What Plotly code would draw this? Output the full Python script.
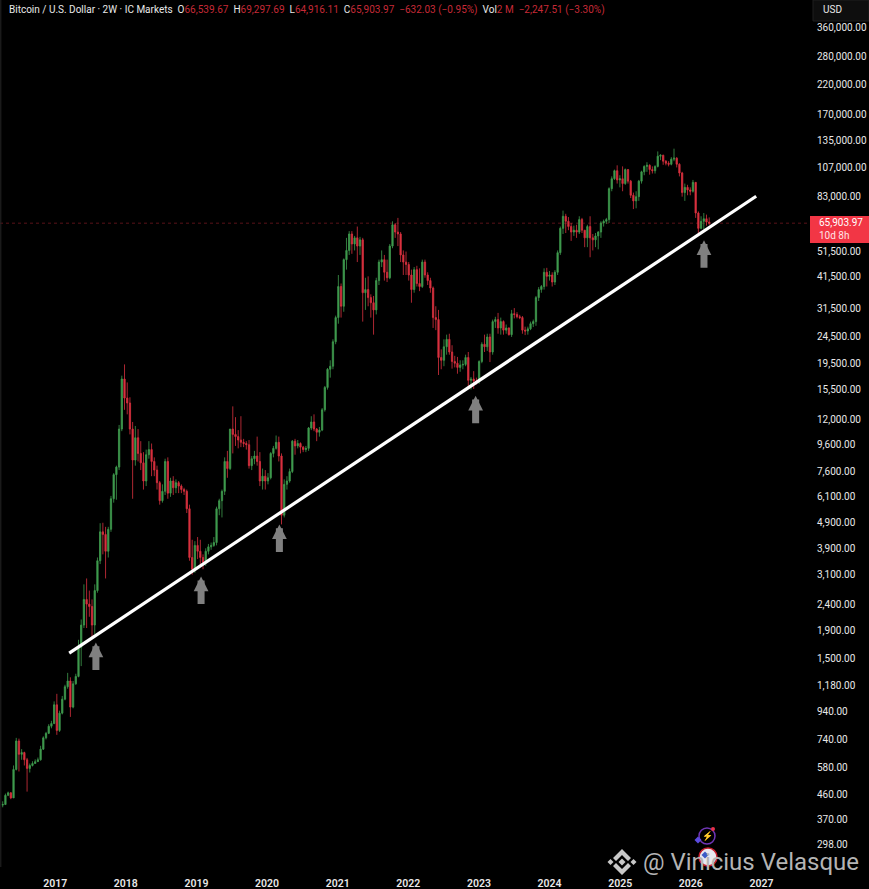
import math
import pandas as pd
import plotly.graph_objects as go

# 2W candles, first bar early April 2016
closes = [
    420, 455, 465, 445, 570, 730, 650, 660, 620, 575,
    590, 600, 610, 620, 680, 750, 780, 830, 850, 1000,
    800, 930, 1050, 1170, 1230, 980, 1200, 1280, 1650, 2000,
    2500, 2400, 2350, 2000, 2700, 3500, 4500, 4400, 3800, 4600,
    6000, 7400, 7900, 11000, 17000, 14400, 13800, 11000, 8400, 10200,
    8900, 8200, 7000, 8800, 9200, 8300, 7700, 6900, 5900, 6400,
    8300, 6300, 7000, 6600, 6900, 6700, 6500, 6400, 5500, 3600,
    3250, 4000, 3800, 3600, 3450, 3800, 3950, 4000, 4100, 5500,
    5900, 6400, 8300, 7800, 11000, 10500, 10300, 10000, 9800, 9700,
    9600, 8000, 8500, 8700, 8300, 7000, 7300, 7000, 7200, 8900,
    9300, 9800, 8700, 5200, 6800, 7000, 7600, 9900, 9500, 9700,
    9400, 9200, 9300, 11100, 11700, 11000, 10700, 10900, 13000, 15800,
    18500, 19000, 23500, 29000, 38000, 32000, 48000, 52000, 60000, 55000,
    58000, 54000, 57000, 36000, 37000, 34500, 33000, 31000, 40000, 47000,
    48000, 43000, 41000, 54000, 65000, 61000, 60000, 50000, 47000, 46000,
    42000, 37000, 44000, 39000, 38000, 47000, 42000, 40000, 37500, 29000,
    28500, 20500, 20000, 22500, 24000, 21500, 19800, 19500, 18800, 19200,
    19300, 20500, 16800, 17000, 16700, 16600, 19800, 23000, 22500, 24500,
    21500, 28000, 28500, 26500, 28000, 26000, 26500, 25000, 30000, 29800,
    29200, 29000, 26000, 25800, 26300, 27500, 28000, 34500, 37000, 38000,
    43000, 41500, 42000, 39500, 43000, 51000, 63000, 70000, 67000, 64000,
    61000, 62000, 61000, 68000, 62000, 58000, 64000, 58000, 57000, 59000,
    61000, 66000, 67000, 68000, 89000, 97000, 104000, 96000, 97000, 93000,
    105000, 95000, 84000, 80000, 83000, 95000, 103000, 108000, 109000, 105000,
    104000, 108000, 118000, 119000, 113000, 111000, 110000, 115000, 116000, 110000,
    102000, 86000, 90000, 88000, 87000, 94000, 72000, 63000, 67000, 68500,
    66539.67, 65903.97,
]
highs = [
    432, 462, 470, 468, 590, 750, 745, 680, 665, 630,
    600, 612, 622, 632, 700, 760, 790, 845, 870, 1030,
    1100, 950, 1080, 1190, 1320, 1270, 1230, 1310, 1760, 2100,
    2850, 3000, 2700, 2500, 2850, 3600, 4850, 4870, 4700, 4700,
    6150, 7500, 8000, 11400, 17500, 19300, 16500, 14500, 11700, 11300,
    11000, 9900, 9000, 9200, 9900, 9700, 8600, 8000, 7000, 6800,
    8500, 8600, 7200, 7300, 7100, 7000, 6800, 6600, 6500, 5700,
    4200, 4150, 4300, 4200, 3700, 3900, 4050, 4100, 4300, 5600,
    6000, 6500, 8600, 9100, 11000, 13400, 12200, 10900, 12300, 10100,
    9900, 10000, 8700, 9100, 10300, 9000, 7800, 7700, 7500, 9000,
    9500, 10400, 10300, 8900, 7100, 7300, 7800, 10000, 10100, 10000,
    9800, 9500, 9500, 11200, 12300, 12500, 11100, 11200, 13200, 16000,
    18700, 20000, 24000, 29500, 42000, 39000, 48500, 58000, 61500, 61500,
    59000, 64000, 58500, 58000, 41000, 41500, 35500, 35000, 41000, 48000,
    52000, 50000, 48000, 55000, 67000, 66000, 69000, 61000, 52000, 51500,
    47000, 44000, 45000, 45500, 44500, 48000, 48000, 43000, 41000, 38000,
    32000, 31000, 22000, 24000, 25000, 25200, 22800, 20800, 20600, 20000,
    20000, 21000, 21500, 17300, 18200, 17200, 20000, 23400, 25000, 25200,
    25200, 28500, 29200, 30200, 29000, 28300, 27300, 26600, 31000, 31500,
    30400, 29700, 29400, 26800, 26800, 28000, 28500, 35000, 37800, 38500,
    44500, 44700, 43500, 43000, 43800, 52000, 64000, 73500, 71500, 69500,
    66000, 64500, 65000, 70000, 69000, 62000, 65000, 70000, 60000, 60500,
    61500, 67000, 68000, 69000, 90000, 99000, 105000, 109000, 100000, 108000,
    106000, 105500, 96000, 86000, 87000, 96000, 104000, 109000, 112000, 110000,
    108000, 109000, 123000, 120000, 119500, 114000, 113000, 117000, 126000, 117000,
    111000, 103000, 93000, 92000, 90000, 96000, 94000, 73000, 70000, 72000,
    71000, 69297.69,
]
lows = [
    410, 420, 452, 440, 445, 565, 560, 620, 590, 470,
    555, 585, 598, 608, 615, 675, 740, 775, 815, 845,
    770, 790, 920, 1040, 1150, 900, 970, 1190, 1270, 1400,
    1950, 1950, 2150, 1800, 1850, 2650, 3400, 3700, 3000, 3600,
    4500, 5800, 5950, 7700, 10800, 13000, 12500, 10500, 6000, 8000,
    8300, 7700, 6500, 6700, 8500, 7300, 7300, 6500, 5700, 5800,
    6200, 6000, 6100, 6200, 6300, 6300, 6300, 6200, 5300, 3500,
    3100, 3150, 3550, 3350, 3250, 3350, 3700, 3850, 3950, 4000,
    5200, 5100, 6200, 7200, 7700, 8900, 9500, 9300, 9400, 9400,
    9200, 7800, 7700, 8100, 8000, 6700, 6500, 6500, 6800, 7100,
    8600, 9200, 8300, 4800, 5100, 6500, 6900, 7500, 8800, 9300,
    8900, 9000, 9000, 9100, 10900, 10800, 9900, 10300, 10800, 12800,
    15500, 17200, 18500, 23000, 27500, 29000, 30500, 44000, 50000, 50500,
    52000, 47000, 50000, 28000, 31000, 32000, 29000, 25000, 29800, 38500,
    45000, 40000, 39500, 40500, 53000, 58000, 54000, 47000, 42000, 42000,
    40000, 33000, 36000, 38000, 36500, 37500, 41000, 38500, 36000, 26500,
    26000, 17600, 18500, 19000, 21000, 21000, 18600, 18800, 17800, 18100,
    18500, 19000, 15800, 15500, 15600, 16200, 16300, 19500, 21500, 21700,
    19700, 21000, 26500, 25200, 25000, 25000, 25200, 24800, 24500, 28800,
    28800, 28600, 25200, 24900, 25000, 26000, 26700, 27000, 33500, 36000,
    37000, 38000, 40000, 38000, 38500, 42000, 50000, 60000, 60500, 62000,
    56500, 59000, 58000, 60000, 60500, 53500, 53500, 49000, 52000, 53500,
    52500, 58000, 64000, 65500, 66000, 87000, 96000, 93000, 90000, 87000,
    92000, 93000, 82000, 74500, 75000, 80000, 93000, 100000, 103000, 100500,
    101500, 101500, 107000, 114000, 109500, 109000, 108000, 109000, 113000, 107000,
    99000, 83000, 80000, 84000, 84000, 86000, 69000, 60000, 62500, 62500,
    64500, 64916.11,
]
opens = [418] + closes[:-1]
dates = pd.date_range("2016-04-04", periods=len(closes), freq="14D")

price_ticks = [360000, 280000, 220000, 170000, 135000, 107000, 83000, 51500, 41500,
               31500, 24500, 19500, 15500, 12000, 9600, 7600, 6100, 4900, 3900, 3100,
               2400, 1900, 1500, 1180, 940, 740, 580, 460, 370, 298]
year_ticks = [str(y) for y in range(2017, 2028)]

trend_dates = ["2017-03-14", "2026-12-05"]
trend_prices = [1568, 83300]

arrow_dates = ["2017-07-30", "2019-01-25", "2020-03-05", "2022-12-15", "2026-03-10"]
arrow_prices = [1720, 3050, 4800, 14700, 56800]

last_price = 65903.97

W, H = 869, 889
PLOT_W, PLOT_H = 808, 867
UP = "#3f9a4e"
DOWN = "#d9313f"
TEXT = "#e8e8e8"
FONT = "Roboto"
LOGO = "#c8c8c8"


def px(x):
    return x / PLOT_W


def py(y):
    return 1 - y / PLOT_H


def polygon(points, color):
    path = "M " + " L ".join(f"{px(x)} {py(y)}" for x, y in points) + " Z"
    return dict(type="path", xref="paper", yref="paper", path=path,
                fillcolor=color, line=dict(width=0), layer="above")


def diamond(cx, cy, r, color):
    return polygon([(cx - r, cy), (cx, cy - r), (cx + r, cy), (cx, cy + r)], color)


def box(x0, y0, x1, y1, fill, line="rgba(0,0,0,0)", width=0):
    return dict(type="rect", xref="paper", yref="paper",
                x0=px(x0), x1=px(x1), y0=py(y0), y1=py(y1),
                fillcolor=fill, line=dict(color=line, width=width), layer="above")


def circle(cx, cy, r, fill, line, width):
    return dict(type="circle", xref="paper", yref="paper",
                x0=px(cx - r), x1=px(cx + r), y0=py(cy + r), y1=py(cy - r),
                fillcolor=fill, line=dict(color=line, width=width), layer="above")


def label(x, y, text, size=10, color=TEXT, anchor="left", **kw):
    return dict(xref="paper", yref="paper", x=px(x), y=py(y), text=text, showarrow=False,
                xanchor=anchor, yanchor="middle", font=dict(family=FONT, size=size, color=color), **kw)


fig = go.Figure()

fig.add_trace(go.Candlestick(
    x=dates, open=opens, high=highs, low=lows, close=closes,
    increasing=dict(line=dict(color=UP, width=0.8), fillcolor=UP),
    decreasing=dict(line=dict(color=DOWN, width=0.8), fillcolor=DOWN),
    whiskerwidth=0,
    showlegend=False,
))

fig.add_trace(go.Scatter(
    x=trend_dates, y=trend_prices, mode="lines",
    line=dict(color="#ffffff", width=3.2),
    showlegend=False, hoverinfo="skip",
))

gap = "&nbsp;&nbsp;"
header = (f'Bitcoin / U.S. Dollar · 2W · IC Markets{gap}'
          f'O<span style="color:#c62a37">66,539.67</span>{gap}'
          f'H<span style="color:#c62a37">69,297.69</span>{gap}'
          f'L<span style="color:#c62a37">64,916.11</span>{gap}'
          f'C<span style="color:#c62a37">65,903.97{gap}−632.03 (−0.95%)</span>{gap}'
          f'Vol<span style="color:#c62a37">2 M{gap}−2,247.51 (−3.30%)</span>')

annotations = [label(7, 9.5, header, size=10)]

for d, p in zip(arrow_dates, arrow_prices):
    annotations.append(dict(
        x=d, y=math.log10(p), xref="x", yref="y",
        ax=0, ay=29, axref="pixel", ayref="pixel",
        text="", showarrow=True, arrowhead=2, arrowsize=0.42, arrowwidth=7,
        arrowcolor="#808080",
    ))

annotations += [
    label(821, 10, "USD", size=10),
    label(817, 223, "65,903.97", size=10, color="#ffffff"),
    label(817, 235.5, "10d 8h", size=10, color="#ffe4e6"),
    label(707, 836, "⚡", size=9, color="#8b46d8", anchor="center"),
    label(641, 862, "@ Vinicius Velasque", size=24, color="#b4b4b4"),
]

shapes = [
    dict(type="line", xref="paper", yref="y", x0=0, x1=1, y0=last_price, y1=last_price,
         line=dict(color="#5a1219", width=1, dash="dot"), layer="below"),
    dict(type="line", xref="paper", yref="paper", x0=0.001, x1=0.001, y0=0, y1=1,
         line=dict(color="#262626", width=1), layer="below"),
    box(813, 0, 869, 21, "#0e0e0e", "#1e1e1e", 1),
    box(810, 216, 869, 243, "#f23645"),
    # logo and badges sitting over the bottom corner
    circle(707, 836, 8, "rgba(0,0,0,0)", "#6f35b5", 1.5),
    diamond(698, 840, 3.5, "#5b4be0"),
    circle(713, 829, 2, "#e8324a", "#e8324a", 0),
    circle(708, 857, 9, "#e8e8f0", "#c8202f", 1.5),
    diamond(705, 855, 3.5, "#3b5bc8"),
    polygon([(613, 858), (622, 849), (631, 858), (628, 861), (622, 855), (616, 861)], LOGO),
    polygon([(613, 866), (622, 875), (631, 866), (628, 863), (622, 869), (616, 863)], LOGO),
    diamond(622, 862, 3.5, LOGO),
    diamond(610.5, 862, 3, LOGO),
    diamond(633.5, 862, 3, LOGO),
]

fig.update_layout(
    width=W, height=H,
    margin=dict(l=0, r=W - PLOT_W, t=0, b=H - PLOT_H),
    paper_bgcolor="#000000", plot_bgcolor="#000000",
    font=dict(family=FONT, size=10, color=TEXT),
    showlegend=False,
    annotations=annotations,
    shapes=shapes,
    xaxis=dict(
        type="date",
        range=["2016-03-21", "2027-08-30"],
        rangeslider=dict(visible=False),
        showgrid=False, zeroline=False, showline=False,
        tickvals=[f"{y}-01-01" for y in year_ticks],
        ticktext=year_ticks,
        ticks="outside", ticklen=6, tickcolor="#000000",
        tickfont=dict(family=FONT, size=10.5, color=TEXT, weight=600),
    ),
    yaxis=dict(
        type="log", side="right",
        range=[math.log10(244), math.log10(459000)],
        showgrid=False, zeroline=False, showline=False,
        tickvals=price_ticks,
        ticktext=[f"{p:,.2f}" for p in price_ticks],
        ticks="outside", ticklen=6, tickcolor="#000000",
        tickfont=dict(family=FONT, size=10, color=TEXT),
    ),
)

fig.write_html("out.html", config={"displayModeBar": False},
               post_script="document.body.style.margin='0';document.body.style.background='#000';")
